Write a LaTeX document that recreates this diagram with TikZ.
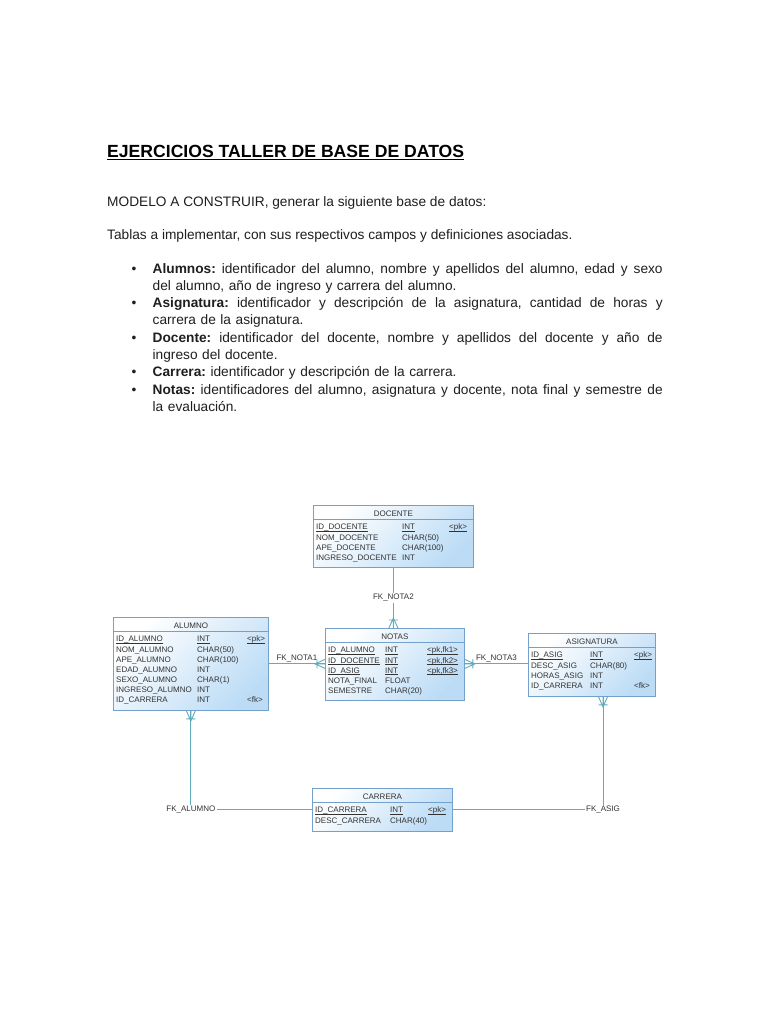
\documentclass[tikz,border=0pt]{standalone}
\usepackage{fontspec}
\setmainfont{Liberation Sans}
\usepackage{xcolor}
\usepackage{tikz}
\usetikzlibrary{calc}

\definecolor{tblborder}{RGB}{116,160,204}
\definecolor{tblfill}{RGB}{188,220,246}
\definecolor{relline}{RGB}{96,172,188}

% crow's foot (one or many) at a table edge
\newcommand{\crowfoot}[2]{%
  \begin{scope}[shift={(#1)}, rotate=#2]
    \draw[rel] (0,-4.5) -- (10,0) -- (0,4.5) (0,0) -- (10,0) (8,-4.5) -- (8,4.5);
  \end{scope}}
% key underline, kept close to the text
\newcommand{\ul}[1]{\underline{\smash{#1}}}
% justified first line of an item
\newcommand{\jline}[1]{\hbox to 510pt{\spaceskip=0.278em plus 2em minus 0.05em\relax #1}}

\begin{document}
\frenchspacing
\begin{tikzpicture}[x=1pt, y=-1pt,
  body/.style={font=\fontsize{13.7}{17.3}\selectfont, inner sep=0pt, anchor=base west, text=black!88},
  item/.style={body, text width=510pt, align=left},
  bul/.style={body, anchor=base},
  tbl/.style={draw=tblborder, line width=0.8pt, top color=white, bottom color=tblfill, shading angle=45, anchor=north west, inner sep=0pt},
  thead/.style={font=\fontsize{8}{9.6}\selectfont, text=black!80, inner sep=0pt},
  trows/.style={font=\fontsize{8}{10.1}\selectfont, text=black!80, inner sep=0pt, anchor=base west},
  tline/.style={draw=tblborder, line width=0.8pt},
  rel/.style={draw=relline, line width=0.9pt},
  lbl/.style={font=\fontsize{8}{9.6}\selectfont, text=black!80, inner sep=1.5pt}]

\fill[white] (0,0) rectangle (768,1024);
\useasboundingbox (0,0) rectangle (768,1024);

% page text
\node[body, font=\fontsize{17.6}{20}\selectfont\bfseries, text=black] (title) at (107,158) {\underline{EJERCICIOS TALLER DE BASE DE DATOS}};
\node[body] (modelo) at (107,207) {MODELO A CONSTRUIR, generar la siguiente base de datos:};
\node[body] (tablas) at (107,240) {Tablas a implementar, con sus respectivos campos y definiciones asociadas.};

\node[bul] (b1) at (134,273) {•};
\node[item] (alumnos) at (152.5,273) {\jline{\textbf{Alumnos:} identificador del alumno, nombre y apellidos del alumno, edad y sexo}\\del alumno, año de ingreso y carrera del alumno.};
\node[bul] (b2) at (134,307.6) {•};
\node[item] (asign) at (152.5,307.6) {\jline{\textbf{Asignatura:} identificador y descripción de la asignatura, cantidad de horas y}\\carrera de la asignatura.};
\node[bul] (b3) at (134,342.2) {•};
\node[item] (docen) at (152.5,342.2) {\jline{\textbf{Docente:} identificador del docente, nombre y apellidos del docente y año de}\\ingreso del docente.};
\node[bul] (b4) at (134,376.8) {•};
\node[item] (carre) at (152.5,376.8) {\textbf{Carrera:} identificador y descripción de la carrera.};
\node[bul] (b5) at (134,394.1) {•};
\node[item] (notas-i) at (152.5,394.1) {\jline{\textbf{Notas:} identificadores del alumno, asignatura y docente, nota final y semestre de}\\la evaluación.};

% DOCENTE
\node[tbl, minimum width=160, minimum height=62] (docente) at (313,505) {};
\node[thead] (docente-h) at ($(docente.north)+(0,8.5)$) {DOCENTE};
\draw[tline] ($(docente.north west)+(0,14.5)$) -- ($(docente.north east)+(0,14.5)$);
\node[trows] (docente-r) at ($(docente.north west)+(3,24.9)$) {\begin{tabular}[t]{@{}p{86pt}@{}p{47pt}@{}l@{}}
\ul{ID\_DOCENTE} & \ul{INT} & \ul{<pk>}\\
NOM\_DOCENTE & CHAR(50) & \\
APE\_DOCENTE & CHAR(100) & \\
INGRESO\_DOCENTE & INT &
\end{tabular}};

% ALUMNO
\node[tbl, minimum width=155, minimum height=93] (alumno) at (113,617) {};
\node[thead] (alumno-h) at ($(alumno.north)+(0,8.5)$) {ALUMNO};
\draw[tline] ($(alumno.north west)+(0,14.5)$) -- ($(alumno.north east)+(0,14.5)$);
\node[trows] (alumno-r) at ($(alumno.north west)+(3,24.9)$) {\begin{tabular}[t]{@{}p{81pt}@{}p{50pt}@{}l@{}}
\ul{ID\_ALUMNO} & \ul{INT} & \ul{<pk>}\\
NOM\_ALUMNO & CHAR(50) & \\
APE\_ALUMNO & CHAR(100) & \\
EDAD\_ALUMNO & INT & \\
SEXO\_ALUMNO & CHAR(1) & \\
INGRESO\_ALUMNO & INT & \\
ID\_CARRERA & INT & <fk>
\end{tabular}};

% NOTAS
\node[tbl, minimum width=139, minimum height=72] (notas) at (325,628) {};
\node[thead] (notas-h) at ($(notas.north)+(0,8.5)$) {NOTAS};
\draw[tline] ($(notas.north west)+(0,14.5)$) -- ($(notas.north east)+(0,14.5)$);
\node[trows] (notas-r) at ($(notas.north west)+(3,24.9)$) {\begin{tabular}[t]{@{}p{57pt}@{}p{42pt}@{}l@{}}
\ul{ID\_ALUMNO} & \ul{INT} & \ul{<pk,fk1>}\\
\ul{ID\_DOCENTE} & \ul{INT} & \ul{<pk,fk2>}\\
\ul{ID\_ASIG} & \ul{INT} & \ul{<pk,fk3>}\\
NOTA\_FINAL & FLOAT & \\
SEMESTRE & CHAR(20) &
\end{tabular}};

% ASIGNATURA
\node[tbl, minimum width=127, minimum height=63] (asignatura) at (528,633) {};
\node[thead] (asignatura-h) at ($(asignatura.north)+(0,8.5)$) {ASIGNATURA};
\draw[tline] ($(asignatura.north west)+(0,14.5)$) -- ($(asignatura.north east)+(0,14.5)$);
\node[trows] (asignatura-r) at ($(asignatura.north west)+(3,24.9)$) {\begin{tabular}[t]{@{}p{59pt}@{}p{44pt}@{}l@{}}
\ul{ID\_ASIG} & \ul{INT} & \ul{<pk>}\\
DESC\_ASIG & CHAR(80) & \\
HORAS\_ASIG & INT & \\
ID\_CARRERA & INT & <fk>
\end{tabular}};

% CARRERA
\node[tbl, minimum width=140, minimum height=43] (carrera) at (312,788) {};
\node[thead] (carrera-h) at ($(carrera.north)+(0,8.5)$) {CARRERA};
\draw[tline] ($(carrera.north west)+(0,14.5)$) -- ($(carrera.north east)+(0,14.5)$);
\node[trows] (carrera-r) at ($(carrera.north west)+(3,24.9)$) {\begin{tabular}[t]{@{}p{75pt}@{}p{38pt}@{}l@{}}
\ul{ID\_CARRERA} & \ul{INT} & \ul{<pk>}\\
DESC\_CARRERA & CHAR(40) &
\end{tabular}};

% relations
\coordinate (n-top) at (docente.south |- notas.north);
\coordinate (n-left) at (alumno.east -| notas.west);
\coordinate (n-right) at (notas.east |- n-left);
\coordinate (asig-b) at ($(asignatura.south west)+(75,0)$);

\draw[rel] (docente.south) -- node[lbl, fill=white] (fk2) {FK\_NOTA2} (n-top);
\draw[rel] (alumno.east) -- node[lbl, above] (fk1) {FK\_NOTA1} (n-left);
\draw[rel] (n-right) -- node[lbl, above] (fk3) {FK\_NOTA3} (n-right -| asignatura.west);
\draw[rel] (alumno.south) |- node[lbl, fill=white] (fkal) {FK\_ALUMNO} (carrera.west);
\draw[rel] (carrera.east) -| node[lbl, fill=white] (fkas) {FK\_ASIG} (asig-b);

\crowfoot{n-top}{90}
\crowfoot{n-left}{180}
\crowfoot{n-right}{0}
\crowfoot{alumno.south}{-90}
\crowfoot{asig-b}{-90}
\end{tikzpicture}
\end{document}
